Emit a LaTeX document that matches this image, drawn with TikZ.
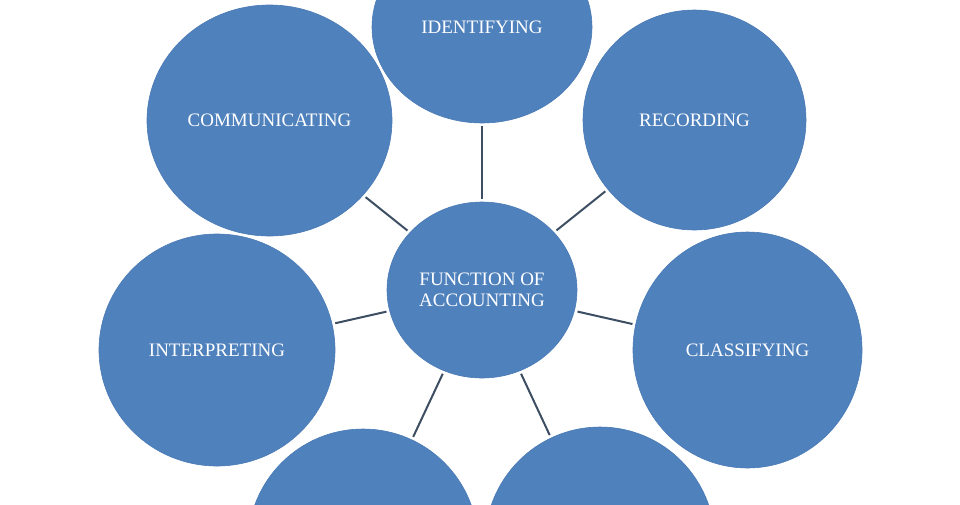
\documentclass[tikz,border=0pt]{standalone}
\usepackage{fontspec}
\setmainfont{Liberation Serif}
\usetikzlibrary{shapes.geometric}
\definecolor{bubble}{HTML}{4F81BD}
\definecolor{bubbleedge}{HTML}{4A7AB5}
\definecolor{linkcol}{HTML}{3D4E63}
\tikzset{
  bubble/.style={ellipse, fill=bubble, draw=bubbleedge, line width=0.6pt, inner sep=0pt,
    text=white, align=center, font=\fontsize{19}{20.5}\selectfont},
  link/.style={draw=linkcol, line width=2pt, shorten >=3pt, shorten <=3pt}
}
\begin{document}
\begin{tikzpicture}[x=1pt,y=-1pt]
\useasboundingbox (0,0) rectangle (960,504);
\clip (0,0) rectangle (960,504);
\fill[white] (0,0) rectangle (960,504);
\node[bubble, minimum width=190pt, minimum height=176pt] (c) at (482,290) {FUNCTION OF\\ACCOUNTING};
\node[bubble, minimum width=220pt, minimum height=192pt] (id) at (482,27) {IDENTIFYING};
\node[bubble, minimum width=223pt, minimum height=220pt] (rec) at (694.5,120) {RECORDING};
\node[bubble, minimum width=245pt, minimum height=231pt] (com) at (269.5,120.5) {COMMUNICATING};
\node[bubble, minimum width=236pt, minimum height=232pt] (int) at (217,350) {INTERPRETING};
\node[bubble, minimum width=229pt, minimum height=236pt] (cla) at (747.5,350) {CLASSIFYING};
\node[bubble, minimum width=230pt, minimum height=230pt] (bl) at (363,544) {};
\node[bubble, minimum width=230pt, minimum height=232pt] (br) at (600,543) {};
\draw[link] (c) -- (id);
\draw[link] (c) -- (rec);
\draw[link] (c) -- (com);
\draw[link] (c) -- (int);
\draw[link] (c) -- (cla);
\draw[link] (c) -- (bl);
\draw[link] (c) -- (br);
\end{tikzpicture}
\end{document}
